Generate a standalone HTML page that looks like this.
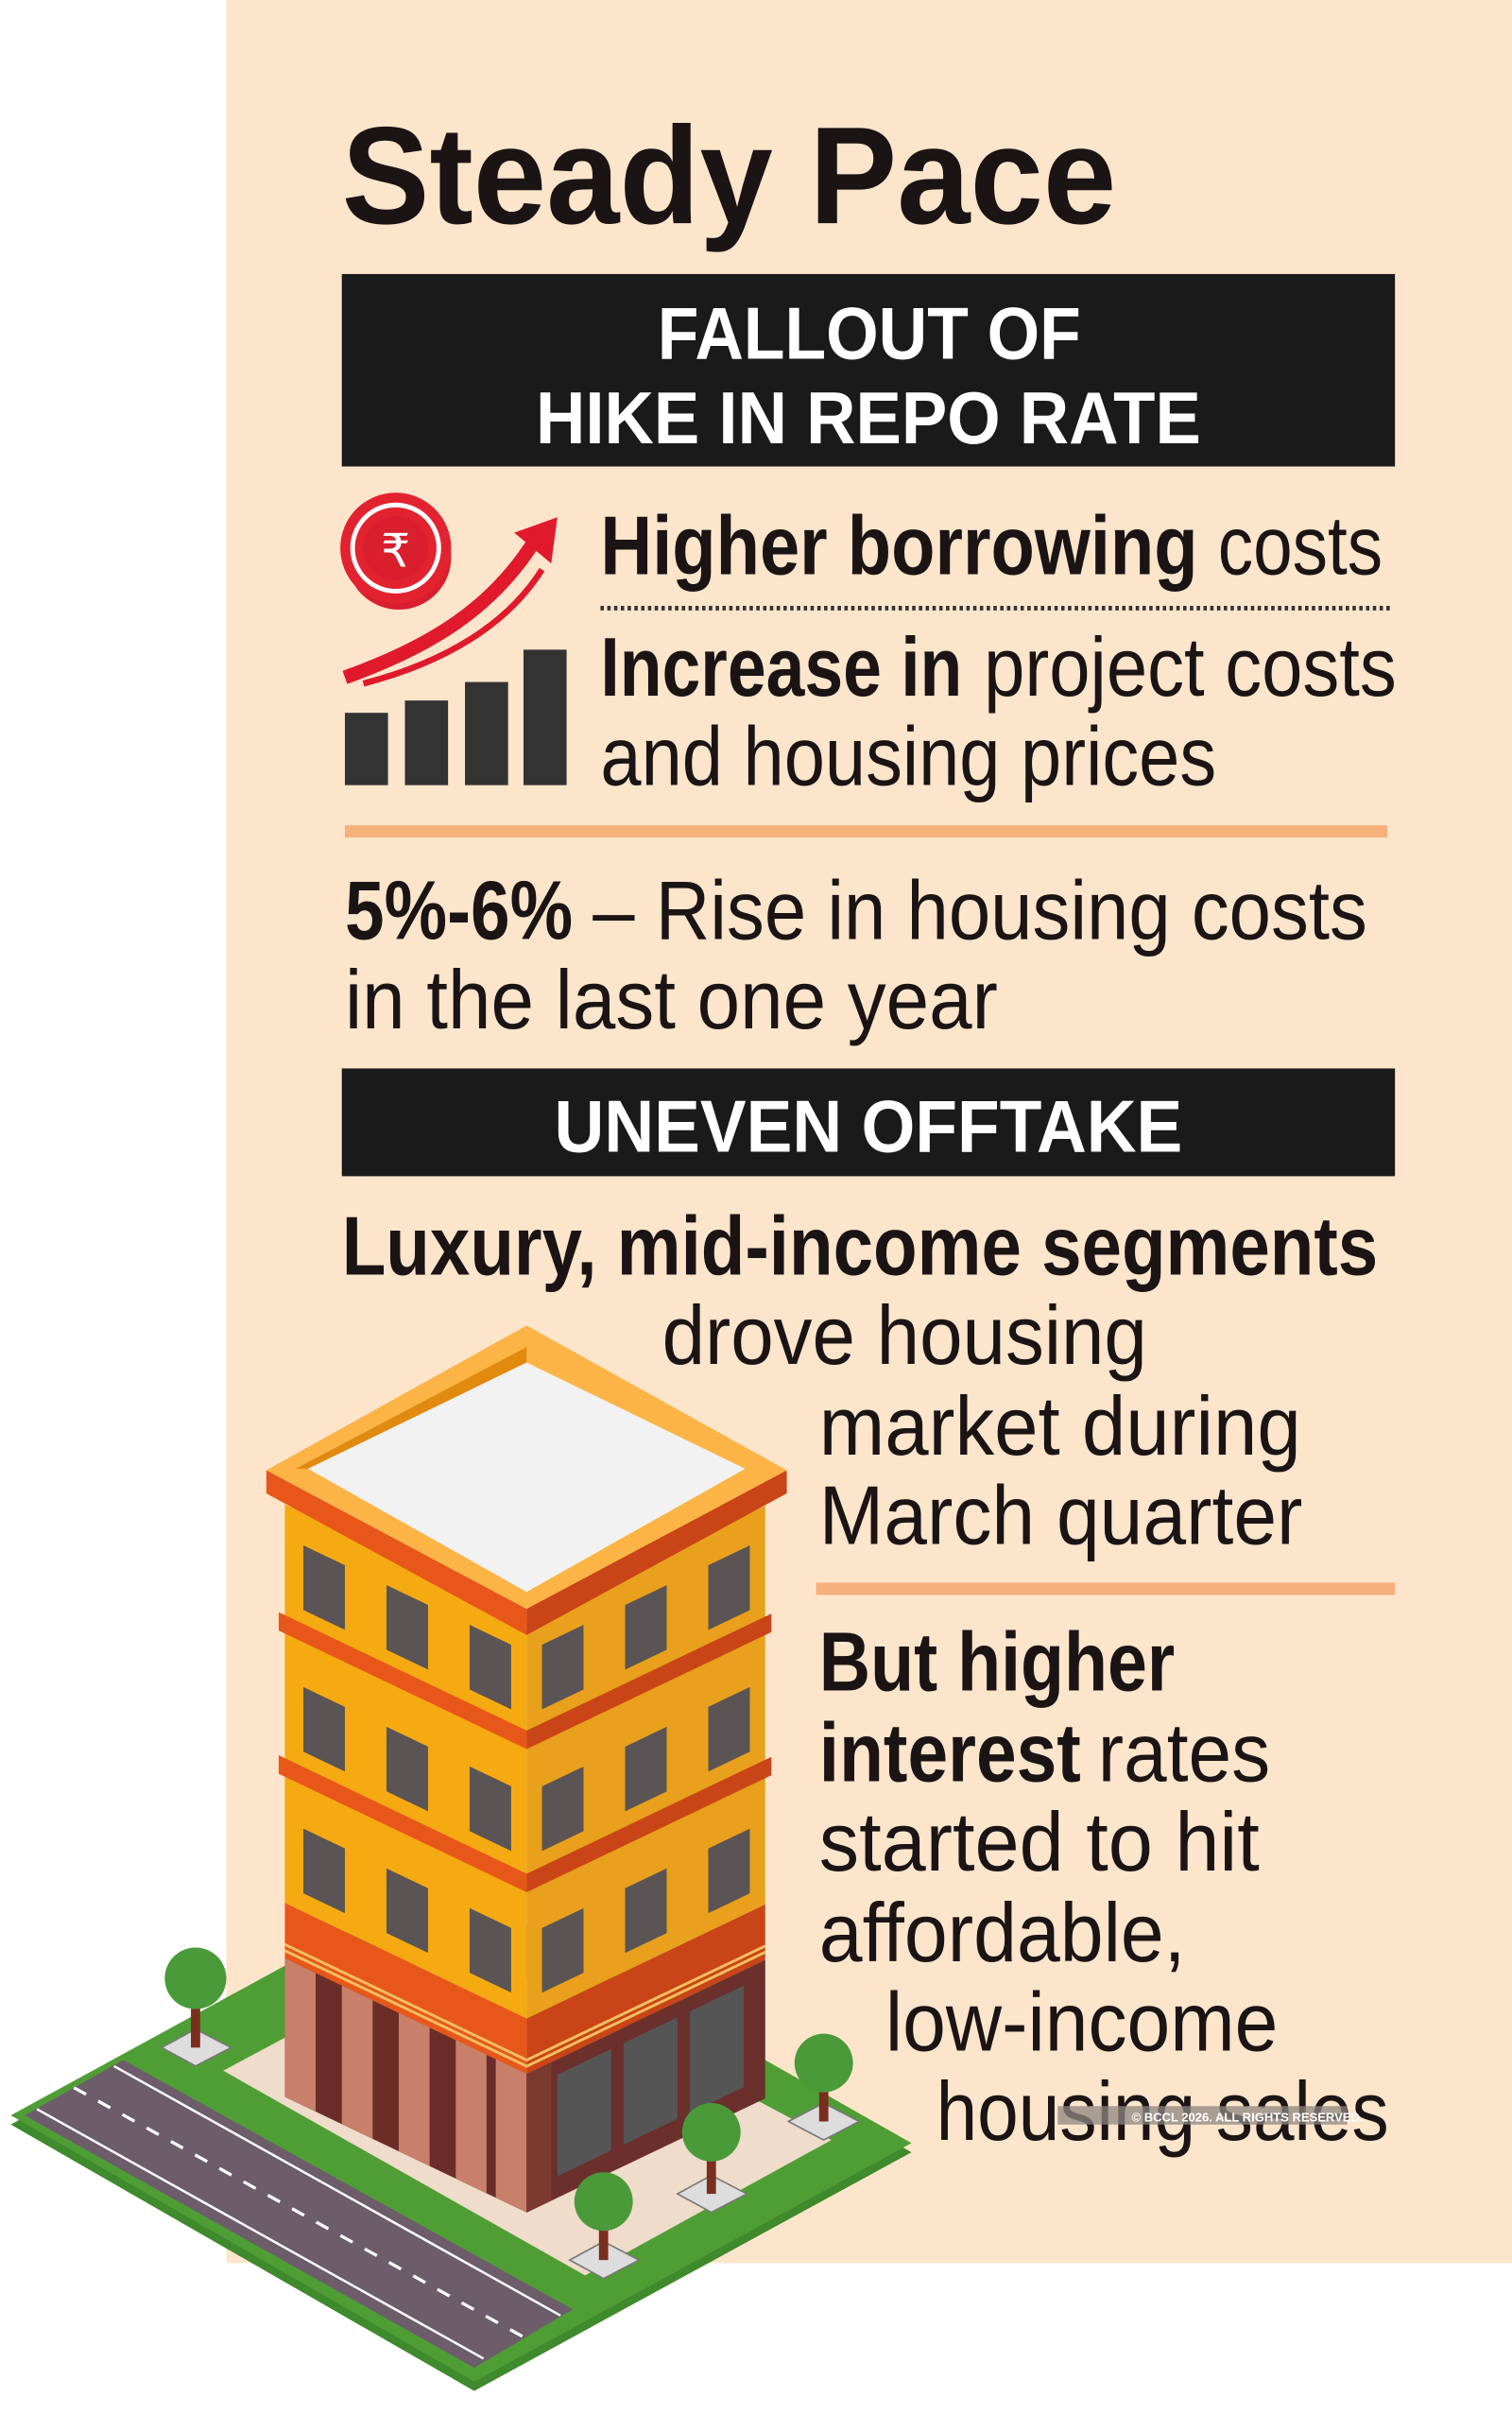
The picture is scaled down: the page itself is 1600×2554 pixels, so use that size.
<!DOCTYPE html>
<html><head><meta charset="utf-8"><style>
html,body{margin:0;padding:0;background:#fff;}
svg{display:block;}
text{font-family:"Liberation Sans",sans-serif;fill:#1a1414;}
.b{font-weight:bold;}
</style></head><body>
<svg width="1600" height="2554" viewBox="0 0 982 1568" preserveAspectRatio="none" xmlns="http://www.w3.org/2000/svg">
<rect x="0" y="0" width="982" height="1568" fill="#fff"/>
<rect x="147" y="0" width="835" height="1470" fill="#fde5cc"/>

<text class="b" x="222" y="145" font-size="90" textLength="503" lengthAdjust="spacingAndGlyphs">Steady Pace</text>

<rect x="222" y="178" width="684" height="125" fill="#1a1a1a"/>
<text class="b" x="427" y="233" font-size="48" textLength="275" lengthAdjust="spacingAndGlyphs" style="fill:#fff">FALLOUT OF</text>
<text class="b" x="348" y="288" font-size="48" textLength="432" lengthAdjust="spacingAndGlyphs" style="fill:#fff">HIKE IN REPO RATE</text>

<!-- coin -->
<circle cx="259" cy="362" r="34" fill="#d91e2e"/>
<circle cx="257" cy="356" r="36" fill="#e2232f"/>
<circle cx="257" cy="356" r="28" fill="none" stroke="#fff" stroke-width="3"/>
<circle cx="257" cy="356" r="21" fill="#d91e2e"/>
<text x="257" y="368" font-size="30" text-anchor="middle" style="fill:#fff;font-family:'DejaVu Sans',sans-serif">₹</text>
<!-- arrow -->
<path d="M224,440 C280,420 320,395 348,350" fill="none" stroke="#e0192c" stroke-width="9"/>
<path d="M236,444 C290,430 330,405 352,370" fill="none" stroke="#e0192c" stroke-width="4"/>
<polygon points="334,346 362,336 358,366" fill="#e0192c"/>
<!-- bars -->
<rect x="224" y="463" width="28" height="47" fill="#333"/>
<rect x="263" y="455" width="28" height="55" fill="#333"/>
<rect x="302" y="443" width="28" height="67" fill="#333"/>
<rect x="340" y="422" width="28" height="88" fill="#333"/>

<text class="b" x="390" y="373" font-size="54" textLength="388" lengthAdjust="spacingAndGlyphs">Higher borrowing</text>
<text x="791" y="373" font-size="54" textLength="107" lengthAdjust="spacingAndGlyphs">costs</text>
<line x1="390" y1="395" x2="903" y2="395" stroke="#333" stroke-width="3" stroke-dasharray="2.2 2.2"/>
<text class="b" x="390" y="452" font-size="54" textLength="235" lengthAdjust="spacingAndGlyphs">Increase in</text>
<text x="639" y="452" font-size="54" textLength="268" lengthAdjust="spacingAndGlyphs">project costs</text>
<text x="390" y="510" font-size="54" textLength="400" lengthAdjust="spacingAndGlyphs">and housing prices</text>
<rect x="224" y="536" width="677" height="8" fill="#f6b07c"/>

<text class="b" x="224" y="610" font-size="54" textLength="148" lengthAdjust="spacingAndGlyphs">5%-6%</text>
<text x="385" y="610" font-size="54" textLength="503" lengthAdjust="spacingAndGlyphs">– Rise in housing costs</text>
<text x="224" y="668" font-size="54" textLength="424" lengthAdjust="spacingAndGlyphs">in the last one year</text>

<rect x="222" y="694" width="684" height="70" fill="#1a1a1a"/>
<text class="b" x="360" y="748" font-size="48" textLength="408" lengthAdjust="spacingAndGlyphs" style="fill:#fff">UNEVEN OFFTAKE</text>

<text class="b" x="222" y="828" font-size="54" textLength="673" lengthAdjust="spacingAndGlyphs">Luxury, mid-income segments</text>
<text x="430" y="886" font-size="54" textLength="315" lengthAdjust="spacingAndGlyphs">drove housing</text>
<text x="532" y="945" font-size="54" textLength="313" lengthAdjust="spacingAndGlyphs">market during</text>
<text x="532" y="1003" font-size="54" textLength="314" lengthAdjust="spacingAndGlyphs">March quarter</text>
<rect x="530" y="1028" width="376" height="8" fill="#f6b07c"/>
<text class="b" x="532" y="1098" font-size="54" textLength="231" lengthAdjust="spacingAndGlyphs">But higher</text>
<text class="b" x="532" y="1157" font-size="54" textLength="170" lengthAdjust="spacingAndGlyphs">interest</text>
<text x="713" y="1157" font-size="54" textLength="112" lengthAdjust="spacingAndGlyphs">rates</text>
<text x="532" y="1215" font-size="54" textLength="286" lengthAdjust="spacingAndGlyphs">started to hit</text>
<text x="532" y="1274" font-size="54" textLength="238" lengthAdjust="spacingAndGlyphs">affordable,</text>
<text x="575" y="1332" font-size="54" textLength="255" lengthAdjust="spacingAndGlyphs">low-income</text>
<text x="608" y="1390" font-size="54" textLength="294" lengthAdjust="spacingAndGlyphs">housing sales</text>
<rect x="687" y="1368" width="188" height="12" fill="#8e8680" opacity="0.75"/>
<text x="735" y="1378" font-size="8" class="b" style="fill:#fff">© BCCL 2026. ALL RIGHTS RESERVED.</text>

<!-- ground plate -->
<polygon points="7,1380 289,1226 592,1398 308,1553" fill="#3f8a2c"/>
<polygon points="7,1374 289,1220 592,1392 308,1547" fill="#4f9e35"/>
<!-- road -->
<polygon points="16,1374 80,1338 372,1500 308,1538" fill="#6d5d6b"/>
<line x1="24" y1="1370" x2="314" y2="1532" stroke="#fff" stroke-width="1.5"/>
<line x1="74" y1="1342" x2="364" y2="1504" stroke="#fff" stroke-width="1.5"/>
<line x1="48" y1="1356" x2="340" y2="1518" stroke="#fff" stroke-width="2" stroke-dasharray="9 9"/>
<!-- plaza -->
<polygon points="145,1345 300,1262 540,1390 380,1478" fill="#efdccb"/>

<!-- building left face -->
<g transform="matrix(1 0.478 0 1 0 -88.4)">
  <rect x="185" y="977" width="157" height="259" fill="#f6aa12"/>
  <rect x="181" y="1049" width="161" height="12" fill="#e8571a"/>
  <rect x="181" y="1142" width="161" height="12" fill="#e8571a"/>
  <rect x="185" y="1236" width="157" height="36" fill="#e8571a"/>
  <rect x="185" y="1262" width="157" height="2" fill="#f4c060"/>
  <rect x="185" y="1266" width="157" height="2" fill="#f4c060"/>
  <rect x="185" y="1272" width="157" height="90" fill="#6a2d28"/>
  <rect x="185" y="1272" width="20" height="90" fill="#c8806a"/>
  <rect x="222" y="1272" width="20" height="90" fill="#c8806a"/>
  <rect x="259" y="1272" width="20" height="90" fill="#c8806a"/>
  <rect x="296" y="1272" width="20" height="90" fill="#c8806a"/>
  <rect x="322" y="1272" width="20" height="90" fill="#c8806a"/>
  <g fill="#5a5454">
    <rect x="197" y="998" width="27" height="42"/><rect x="251" y="998" width="27" height="42"/><rect x="305" y="998" width="27" height="42"/>
    <rect x="197" y="1090" width="27" height="42"/><rect x="251" y="1090" width="27" height="42"/><rect x="305" y="1090" width="27" height="42"/>
    <rect x="197" y="1182" width="27" height="42"/><rect x="251" y="1182" width="27" height="42"/><rect x="305" y="1182" width="27" height="42"/>
  </g>
</g>
<!-- building right face -->
<g transform="matrix(1 -0.478 0 1 0 238.6)">
  <rect x="342" y="977" width="155" height="259" fill="#e9a01c"/>
  <rect x="342" y="1049" width="159" height="12" fill="#c94416"/>
  <rect x="342" y="1142" width="159" height="12" fill="#c94416"/>
  <rect x="342" y="1236" width="155" height="36" fill="#c94416"/>
  <rect x="342" y="1262" width="155" height="2" fill="#f4c060"/>
  <rect x="342" y="1266" width="155" height="2" fill="#f4c060"/>
  <rect x="342" y="1272" width="155" height="90" fill="#6b2f2c"/>
  <rect x="362" y="1282" width="35" height="66" fill="#555"/>
  <rect x="405" y="1282" width="35" height="66" fill="#555"/>
  <rect x="448" y="1282" width="35" height="66" fill="#555"/>
  <rect x="342" y="1272" width="16" height="90" fill="#7a3a30"/>
  <g fill="#5a5454">
    <rect x="352" y="998" width="27" height="42"/><rect x="406" y="998" width="27" height="42"/><rect x="460" y="998" width="27" height="42"/>
    <rect x="352" y="1090" width="27" height="42"/><rect x="406" y="1090" width="27" height="42"/><rect x="460" y="1090" width="27" height="42"/>
    <rect x="352" y="1182" width="27" height="42"/><rect x="406" y="1182" width="27" height="42"/><rect x="460" y="1182" width="27" height="42"/>
  </g>
</g>
<!-- roof -->
<polygon points="173,955 342,1045 342,1062 173,970" fill="#e8571a"/>
<polygon points="342,1045 511,955 511,970 342,1062" fill="#c94416"/>
<polygon points="342,861 511,955 342,1045 173,955" fill="#fbb445"/>
<polygon points="342,885 484,954 342,1034 200,954" fill="#f3f2f2"/>
<polygon points="342,875 342,885 200,954 192,954" fill="#e08a10"/>

<!-- trees -->
<g>
  <polygon points="105,1330 127,1318 150,1330 127,1342" fill="#ddd" stroke="#777" stroke-width="1"/>
  <rect x="124" y="1290" width="6" height="40" fill="#7a2e1e"/>
  <circle cx="127" cy="1285" r="20" fill="#4a9a3a"/>
</g>
<g>
  <polygon points="512,1378 535,1366 558,1378 535,1390" fill="#ddd" stroke="#777" stroke-width="1"/>
  <rect x="532" y="1345" width="6" height="33" fill="#7a2e1e"/>
  <circle cx="535" cy="1340" r="19" fill="#4a9a3a"/>
</g>
<g>
  <polygon points="440,1425 462,1413 485,1425 462,1437" fill="#ddd" stroke="#777" stroke-width="1"/>
  <rect x="459" y="1390" width="6" height="35" fill="#7a2e1e"/>
  <circle cx="462" cy="1385" r="19" fill="#4a9a3a"/>
</g>
<g>
  <polygon points="370,1468 392,1456 415,1468 392,1480" fill="#ddd" stroke="#777" stroke-width="1"/>
  <rect x="389" y="1434" width="6" height="34" fill="#7a2e1e"/>
  <circle cx="392" cy="1430" r="19" fill="#4a9a3a"/>
</g>
</svg>
</body></html>
